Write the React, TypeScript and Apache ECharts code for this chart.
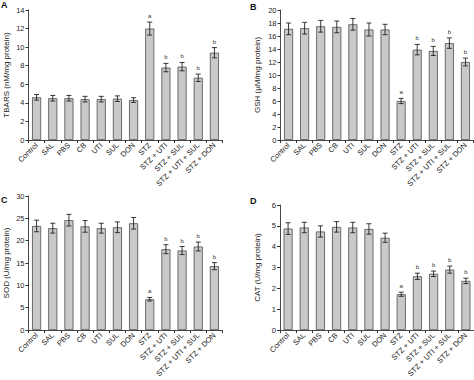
import React, { useEffect, useRef } from "react";
import * as echarts from "echarts";

const categories = ["Control", "SAL", "PBS", "CB", "UTI", "SUL", "DON", "STZ", "STZ + UTI", "STZ + SUL", "STZ + UTI + SUL", "STZ + DON"];
const letters = ["", "", "", "", "", "", "", "a", "b", "b", "b", "b"];

const tbarsMean = [4.6, 4.5, 4.5, 4.4, 4.4, 4.45, 4.3, 12.0, 7.8, 7.9, 6.7, 9.4];
const tbarsErr = [0.3, 0.3, 0.3, 0.3, 0.3, 0.3, 0.25, 0.7, 0.45, 0.45, 0.4, 0.55];
const gshMean = [17.1, 17.2, 17.5, 17.4, 17.8, 17.0, 17.0, 6.0, 13.9, 13.7, 14.9, 12.0];
const gshErr = [0.9, 0.9, 0.9, 0.9, 0.9, 1.0, 0.8, 0.4, 0.8, 0.7, 0.8, 0.6];
const sodMean = [23.3, 22.8, 24.6, 23.2, 22.8, 23.0, 23.9, 6.9, 18.1, 17.8, 18.7, 14.3];
const sodErr = [1.3, 1.1, 1.3, 1.3, 1.1, 1.2, 1.3, 0.4, 1.0, 0.9, 1.0, 0.8];
const catMean = [4.87, 4.92, 4.73, 4.95, 4.92, 4.85, 4.43, 1.72, 2.58, 2.7, 2.9, 2.36];
const catErr = [0.28, 0.25, 0.27, 0.25, 0.25, 0.25, 0.22, 0.1, 0.15, 0.13, 0.17, 0.13];

const panelLetters = ["A", "B", "C", "D"];
const yNames = ["TBARS (nM/mg protein)", "GSH (\u03bcM/mg protein)", "SOD (U/mg protein)", "CAT (U/mg protein)"];
const yMax = [14, 20, 30, 6];
const yInterval = [2, 2, 5, 1];

const FONT = "Liberation Sans, Arial, sans-serif";

export default function App() {
  const ref = useRef<HTMLDivElement>(null);
  useEffect(() => {
    if (!ref.current) return;
    const chart = echarts.init(ref.current, null, { renderer: "svg" });
    const means = [tbarsMean, gshMean, sodMean, catMean];
    const errs = [tbarsErr, gshErr, sodErr, catErr];
    const grids = [
      { left: 28.5, top: 10, width: 194, height: 130 },
      { left: 280.5, top: 10, width: 193, height: 130 },
      { left: 28.5, top: 196, width: 194, height: 139 },
      { left: 280, top: 205, width: 194, height: 130 },
    ];
    const series: any[] = [];
    means.forEach((m, p) => {
      series.push({
        type: "bar",
        xAxisIndex: p,
        yAxisIndex: p,
        data: m,
        barWidth: "56%",
        itemStyle: { color: "#c9c9c9", borderColor: "#4d4d4d", borderWidth: 0.8 },
      });
      series.push({
        type: "custom",
        xAxisIndex: p,
        yAxisIndex: p,
        data: m.map((v, i) => [i, v, errs[p][i]]),
        z: 5,
        renderItem: (params: any, api: any) => {
          const x = api.value(0);
          const v = api.value(1);
          const e = api.value(2);
          const top = api.coord([x, v + e]);
          const bot = api.coord([x, v - e]);
          const hw = 2.5;
          const st = { stroke: "#222", lineWidth: 0.9 };
          const children: any[] = [
            { type: "line", shape: { x1: top[0], y1: top[1], x2: bot[0], y2: bot[1] }, style: st },
            { type: "line", shape: { x1: top[0] - hw, y1: top[1], x2: top[0] + hw, y2: top[1] }, style: st },
            { type: "line", shape: { x1: bot[0] - hw, y1: bot[1], x2: bot[0] + hw, y2: bot[1] }, style: st },
          ];
          const l = letters[params.dataIndex];
          if (l) {
            children.push({
              type: "text",
              style: { text: l, x: top[0], y: top[1] - 3, align: "center", verticalAlign: "bottom", fontSize: 6, fill: "#333", fontFamily: FONT },
            });
          }
          return { type: "group", children };
        },
      });
    });

    chart.setOption({
      animation: false,
      grid: grids.map((g) => ({ ...g, containLabel: false })),
      xAxis: grids.map((_, p) => ({
        type: "category",
        gridIndex: p,
        data: categories,
        axisLine: { lineStyle: { color: "#333", width: 0.9 } },
        axisTick: { show: true, length: 3, lineStyle: { color: "#333" } },
        axisLabel: { rotate: 45, interval: 0, fontSize: 7.5, color: "#222", fontFamily: FONT, margin: 4 },
      })),
      yAxis: grids.map((_, p) => ({
        type: "value",
        gridIndex: p,
        min: 0,
        max: yMax[p],
        interval: yInterval[p],
        name: yNames[p],
        nameLocation: "middle",
        nameGap: p === 1 || p === 3 ? 19 : 18,
        nameTextStyle: { fontSize: 8, color: "#222", fontFamily: FONT },
        axisLine: { show: true, lineStyle: { color: "#333", width: 0.9 } },
        axisTick: { show: true, length: 3, lineStyle: { color: "#333" } },
        axisLabel: { fontSize: 7.5, color: "#222", fontFamily: FONT, margin: 4 },
        splitLine: { show: false },
      })),
      graphic: [
        { type: "text", left: 1, top: 0, style: { text: panelLetters[0], fontSize: 9, fontWeight: "bold", fill: "#111", fontFamily: FONT } },
        { type: "text", left: 250, top: 2, style: { text: panelLetters[1], fontSize: 9, fontWeight: "bold", fill: "#111", fontFamily: FONT } },
        { type: "text", left: 1, top: 195, style: { text: panelLetters[2], fontSize: 9, fontWeight: "bold", fill: "#111", fontFamily: FONT } },
        { type: "text", left: 250, top: 196, style: { text: panelLetters[3], fontSize: 9, fontWeight: "bold", fill: "#111", fontFamily: FONT } },
      ],
      series,
    });
    return () => chart.dispose();
  }, []);
  return <div ref={ref} style={{ width: 474, height: 380, position: "absolute", left: 0, top: 0, background: "#fff" }} />;
}
